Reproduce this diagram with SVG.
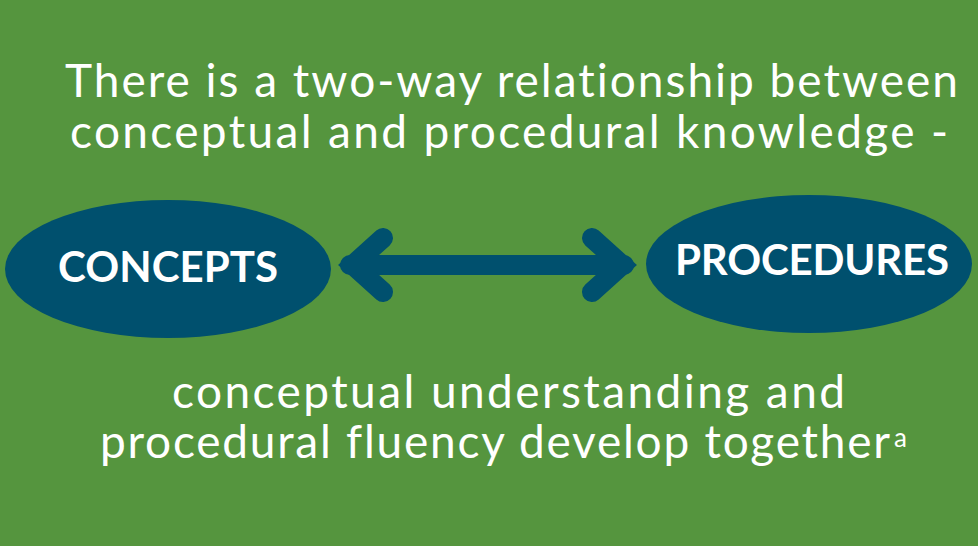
<svg xmlns="http://www.w3.org/2000/svg" width="978" height="546" viewBox="0 0 978 546">
<style>
.t{font-family:Lato,"Open Sans","Liberation Sans",sans-serif;fill:#ffffff;font-size:46px;font-variant-ligatures:none}
.sup{font-family:Lato,"Open Sans","Liberation Sans",sans-serif;fill:#ffffff;font-size:26px}
.lbl{font-family:Lato,"Open Sans","Liberation Sans",sans-serif;fill:#ffffff;font-size:42px;font-weight:bold}
.node{fill:#00506E}
.arr{fill:none;stroke:#00506E;stroke-width:20;stroke-linecap:round;stroke-linejoin:miter}
</style>
<rect x="0" y="0" width="978" height="546" fill="#55953E"/>
<g id="title">
<text class="t" x="65" y="97" textLength="893">There is a two-way relationship between</text>
<text class="t" x="70" y="148" textLength="878">conceptual and procedural knowledge -</text>
</g>
<g id="connectors">
<line class="arr" x1="350" y1="265" x2="624" y2="265" stroke-linecap="butt"/>
<polyline class="arr" points="383,238 353,265 383,292"/>
<polyline class="arr" points="592,238 622,265 592,292"/>
</g>
<g id="concepts">
<ellipse class="node" cx="168" cy="269" rx="163" ry="69"/>
<text class="lbl" x="58" y="282" textLength="220">CONCEPTS</text>
</g>
<g id="procedures">
<ellipse class="node" cx="809" cy="264" rx="163" ry="69"/>
<text class="lbl" x="675" y="275" textLength="274">PROCEDURES</text>
</g>
<g id="footer">
<text class="t" x="172" y="408" textLength="673">conceptual understanding and</text>
<text class="t" x="100" y="458" textLength="790">procedural fluency develop together</text>
<text class="sup" x="894" y="447">a</text>
</g>
</svg>
